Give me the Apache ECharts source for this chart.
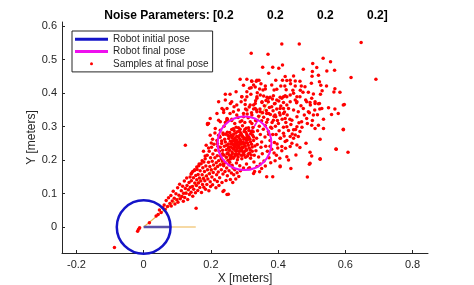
<!DOCTYPE html>
<html>
<head>
<meta charset="utf-8">
<script src="https://cdn.jsdelivr.net/npm/echarts@6/dist/echarts.min.js"></script>
<style>
  html, body { margin: 0; padding: 0; background: #fff; }
  #chart { width: 474px; height: 285px; }
</style>
</head>
<body>
<div id="chart"></div>
<script>
// axis ranges and ticks (meters)
const xRange = [-0.243, 0.846];
const yRange = [-0.0776, 0.612];
const xTicks = [-0.2, 0, 0.2, 0.4, 0.6, 0.8];
const yTicks = [0, 0.1, 0.2, 0.3, 0.4, 0.5, 0.6];

// robot poses [x, y, radius]
const initialPose = [[0, 0, 0.08]];
const finalPose = [[0.3, 0.25, 0.08]];

// heading / path segments
const initHeading = [[0, 0], [0.08, 0]];
const initRay = [[0, 0], [0.155, 0]];
const pathRay = [[0, 0], [0.3, 0.25]];
const finalRay = [[0.3, 0.25], [0.372, 0.375]];
const finalHeading = [[0.3, 0.25], [0.34, 0.319]];

const samples = [
  // outliers
  [0.467,0.613],[0.647,0.551],[0.411,0.546],[0.463,0.546],[0.691,0.441],[0.617,0.446],
  [0.608,0.223],[0.573,0.232],[0.525,0.204],[0.495,0.190],[0.487,0.149],[0.594,0.290],
  [0.124,0.244],[0.156,0.056],[-0.087,-0.061],[-0.018,-0.013],[-0.015,-0.007],[-0.012,-0.002],
  [0.017,0.013],[0.037,0.033],
  // upper right
  [0.320,0.519],[0.370,0.516],[0.534,0.504],[0.556,0.493],[0.503,0.488],[0.413,0.484],
  [0.354,0.477],[0.384,0.477],[0.402,0.474],[0.475,0.471],[0.515,0.476],[0.545,0.466],
  [0.568,0.468],[0.502,0.464],[0.372,0.459],[0.421,0.449],[0.446,0.451],[0.520,0.453],
  [0.501,0.450],[0.343,0.438],[0.349,0.428],[0.321,0.436],[0.335,0.435],[0.327,0.424],
  [0.362,0.421],[0.393,0.438],[0.413,0.438],[0.426,0.437],[0.436,0.438],[0.451,0.436],
  [0.465,0.435],[0.381,0.424],[0.408,0.421],[0.420,0.421],[0.451,0.421],[0.469,0.421],
  [0.480,0.419],[0.499,0.429],[0.523,0.434],[0.527,0.423],[0.544,0.421],[0.569,0.413],
  [0.584,0.402],[0.566,0.403],[0.320,0.416],[0.345,0.412],[0.355,0.409],[0.396,0.411],
  [0.424,0.410],[0.444,0.408],[0.466,0.408],[0.490,0.402],[0.505,0.397],[0.526,0.396],
  [0.531,0.407],[0.597,0.366],[0.446,0.399],[0.456,0.389],[0.421,0.392],[0.436,0.394],
  [0.347,0.394],[0.357,0.391],[0.367,0.387],[0.376,0.387],[0.386,0.392],[0.406,0.387],
  [0.332,0.369],[0.352,0.372],[0.371,0.374],[0.391,0.369],[0.416,0.372],[0.456,0.374],
  [0.482,0.379],[0.495,0.372],[0.510,0.374],[0.520,0.368],
  // right side
  [0.411,0.384],[0.426,0.389],[0.436,0.374],[0.451,0.379],[0.465,0.389],[0.485,0.374],
  [0.500,0.384],[0.510,0.369],[0.523,0.369],[0.530,0.354],[0.550,0.356],[0.569,0.352],
  [0.594,0.364],[0.579,0.339],[0.559,0.336],[0.535,0.322],[0.505,0.334],[0.490,0.344],
  [0.475,0.354],[0.460,0.344],[0.446,0.349],[0.431,0.354],[0.416,0.354],[0.406,0.334],
  [0.421,0.324],[0.441,0.319],[0.456,0.329],[0.470,0.314],[0.485,0.324],[0.500,0.304],
  [0.510,0.294],[0.520,0.304],[0.535,0.294],[0.594,0.292],[0.525,0.262],[0.426,0.299],
  [0.446,0.290],[0.456,0.299],[0.465,0.285],[0.416,0.280],[0.436,0.270],[0.451,0.275],
  [0.460,0.270],[0.406,0.265],[0.421,0.255],[0.441,0.250],[0.411,0.240],[0.436,0.240],
  [0.456,0.245],[0.465,0.237],[0.483,0.250],[0.495,0.223],[0.500,0.212],[0.525,0.202],
  [0.572,0.233],[0.453,0.215],[0.426,0.210],[0.431,0.200],[0.493,0.187],[0.438,0.175],
  [0.406,0.182],[0.351,0.175],[0.366,0.150],[0.384,0.150],[0.406,0.180],[0.327,0.160],
  [0.312,0.175],
  // above the core
  [0.287,0.441],[0.307,0.441],[0.322,0.435],[0.337,0.438],[0.297,0.423],[0.315,0.414],
  [0.332,0.418],[0.275,0.404],[0.307,0.404],[0.319,0.396],[0.257,0.396],[0.243,0.396],
  [0.223,0.374],[0.243,0.379],[0.262,0.374],[0.292,0.389],[0.307,0.389],[0.290,0.374],
  [0.302,0.366],[0.337,0.384],[0.327,0.364],[0.269,0.359],[0.248,0.354],[0.233,0.354],
  [0.238,0.342],[0.218,0.339],[0.257,0.339],[0.282,0.349],[0.307,0.349],[0.277,0.334],
  [0.297,0.329],[0.322,0.334],[0.337,0.344],[0.190,0.309],[0.228,0.314],[0.248,0.319],
  [0.262,0.322],[0.287,0.314],[0.317,0.314],[0.213,0.294],[0.198,0.274],[0.223,0.274],
  [0.292,0.389],[0.302,0.379],[0.337,0.389],[0.352,0.374],[0.371,0.384],[0.396,0.379],
  [0.416,0.389],[0.258,0.369],[0.277,0.364],[0.317,0.364],[0.332,0.354],[0.381,0.359],
  [0.406,0.354],[0.426,0.364],[0.238,0.349],[0.267,0.344],[0.297,0.339],[0.347,0.344],
  [0.366,0.339],[0.391,0.334],[0.416,0.339],[0.198,0.324],[0.223,0.319],[0.248,0.324],
  [0.193,0.309],
  // dense core
  [0.241,0.262],[0.246,0.231],[0.249,0.283],[0.252,0.248],[0.255,0.215],[0.257,0.271],
  [0.259,0.239],[0.262,0.291],[0.263,0.224],[0.265,0.257],[0.267,0.205],[0.268,0.278],
  [0.270,0.242],[0.272,0.265],[0.273,0.218],[0.275,0.298],[0.276,0.251],[0.278,0.233],
  [0.279,0.284],[0.281,0.209],[0.282,0.268],[0.284,0.245],[0.285,0.226],[0.287,0.292],
  [0.288,0.259],[0.290,0.214],[0.291,0.276],[0.293,0.238],[0.294,0.302],[0.296,0.253],
  [0.297,0.222],[0.299,0.285],[0.300,0.266],[0.302,0.241],[0.303,0.208],[0.305,0.295],
  [0.306,0.229],[0.308,0.272],[0.309,0.251],[0.311,0.218],[0.313,0.288],[0.314,0.236],
  [0.316,0.262],[0.318,0.205],[0.319,0.279],[0.321,0.247],[0.323,0.226],[0.325,0.297],
  [0.327,0.258],[0.329,0.214],[0.244,0.277],[0.251,0.199],[0.258,0.256],[0.264,0.236],
  [0.269,0.288],[0.274,0.228],[0.280,0.253],[0.286,0.274],[0.292,0.229],[0.298,0.247],
  [0.304,0.283],[0.310,0.262],[0.317,0.231],[0.324,0.274],[0.331,0.242],[0.253,0.264],
  [0.261,0.211],[0.266,0.246],[0.271,0.255],[0.277,0.271],[0.283,0.237],[0.289,0.248],
  [0.295,0.269],[0.301,0.226],[0.307,0.259],[0.312,0.296],[0.320,0.215],[0.326,0.284],
  [0.247,0.244],[0.256,0.229],[0.260,0.275],[0.285,0.286],[0.278,0.216],[0.294,0.214],
  [0.336,0.265],[0.334,0.228],[0.339,0.287],[0.338,0.246],[0.342,0.209],
  [0.243,0.254],[0.248,0.219],[0.251,0.273],[0.254,0.239],[0.256,0.282],[0.258,0.203],
  [0.261,0.248],[0.263,0.266],[0.264,0.219],[0.267,0.293],[0.268,0.232],[0.269,0.261],
  [0.271,0.211],[0.273,0.247],[0.274,0.281],[0.276,0.226],[0.277,0.259],[0.279,0.201],
  [0.281,0.241],[0.282,0.296],[0.283,0.219],[0.286,0.263],[0.287,0.234],[0.289,0.281],
  [0.291,0.252],[0.292,0.204],[0.294,0.271],[0.296,0.237],[0.298,0.262],[0.299,0.216],
  [0.301,0.291],[0.303,0.251],[0.305,0.233],[0.307,0.276],[0.309,0.212],[0.311,0.244],
  [0.313,0.268],[0.315,0.221],[0.318,0.254],[0.321,0.286],[0.323,0.239],[0.327,0.269],
  [0.252,0.236],[0.266,0.272],[0.279,0.245],[0.291,0.227],[0.304,0.264],[0.262,0.255],
  [0.273,0.238],[0.285,0.252],
  // ring around the core
  [0.228,0.238],[0.232,0.257],[0.235,0.219],[0.236,0.281],[0.239,0.301],[0.226,0.271],
  [0.231,0.204],[0.237,0.188],[0.243,0.312],[0.249,0.322],[0.254,0.186],[0.262,0.318],
  [0.266,0.176],[0.271,0.309],[0.276,0.191],[0.281,0.327],[0.286,0.183],[0.292,0.317],
  [0.297,0.176],[0.301,0.312],[0.306,0.188],[0.311,0.326],[0.315,0.177],[0.322,0.309],
  [0.328,0.194],[0.333,0.318],[0.337,0.181],[0.344,0.301],[0.347,0.276],[0.349,0.238],
  [0.351,0.254],[0.353,0.219],[0.356,0.292],[0.358,0.197],[0.361,0.269],[0.363,0.241],
  [0.366,0.313],[0.368,0.226],[0.371,0.285],[0.373,0.207],[0.376,0.258],[0.378,0.298],
  [0.381,0.232],[0.384,0.276],[0.386,0.319],[0.389,0.252],[0.392,0.301],[0.395,0.214],
  [0.357,0.328],[0.347,0.188],[0.362,0.182],[0.378,0.192],[0.391,0.198],[0.399,0.236],
  [0.403,0.287],[0.398,0.318],[0.388,0.331],[0.372,0.339],[0.345,0.165],[0.330,0.166],
  // right of the core
  [0.342,0.331],[0.346,0.352],[0.351,0.317],[0.354,0.341],[0.359,0.362],[0.362,0.302],
  [0.365,0.348],[0.369,0.321],[0.374,0.357],[0.377,0.336],[0.382,0.312],[0.385,0.347],
  [0.389,0.368],[0.393,0.329],[0.396,0.352],[0.401,0.309],[0.404,0.341],[0.408,0.361],
  [0.412,0.322],[0.416,0.298],[0.419,0.343],[0.423,0.312],[0.427,0.334],[0.431,0.288],
  [0.435,0.322],[0.438,0.306],[0.442,0.278],[0.364,0.378],[0.383,0.382],[0.402,0.376],
  [0.336,0.349],[0.333,0.377],[0.327,0.352],[0.321,0.341],[0.314,0.358],[0.308,0.337],
  [0.303,0.352],[0.338,0.401],[0.362,0.412],[0.388,0.409],[0.372,0.277],[0.381,0.295],
  [0.394,0.276],[0.407,0.265],[0.418,0.272],[0.426,0.258],[0.397,0.248],[0.411,0.228],
  [0.388,0.221],[0.376,0.241],[0.405,0.205],[0.422,0.235],[0.446,0.265],[0.452,0.291],
  [0.462,0.311],[0.471,0.298],[0.478,0.334],[0.487,0.309],[0.493,0.341],[0.502,0.318],
  [0.509,0.349],[0.517,0.335],[0.524,0.352],[0.496,0.364],[0.468,0.362],[0.455,0.371],
  [0.474,0.402],[0.437,0.428],
  // tail toward the start
  [0.043,0.037],[0.047,0.051],[0.052,0.043],[0.057,0.058],
  [0.061,0.066],[0.064,0.052],[0.067,0.079],[0.071,0.061],[0.074,0.087],[0.078,0.070],
  [0.081,0.094],[0.082,0.063],[0.085,0.078],[0.088,0.107],[0.091,0.086],[0.093,0.069],
  [0.096,0.099],[0.099,0.081],
  [0.101,0.117],[0.102,0.074],[0.105,0.095],[0.107,0.128],[0.109,0.084],[0.112,0.108],
  [0.114,0.091],[0.116,0.122],[0.118,0.077],[0.119,0.101],
  [0.121,0.137],[0.122,0.088],[0.124,0.115],[0.126,0.101],[0.128,0.146],[0.129,0.124],
  [0.131,0.082],[0.133,0.111],[0.135,0.133],[0.136,0.097],[0.138,0.149],[0.139,0.119],
  [0.141,0.104],[0.142,0.138],[0.143,0.161],[0.145,0.121],[0.146,0.092],[0.148,0.147],
  [0.149,0.113],[0.151,0.169],[0.152,0.131],[0.154,0.102],[0.155,0.154],[0.157,0.124],
  [0.158,0.141],[0.159,0.172],
  [0.161,0.109],[0.162,0.157],[0.163,0.131],[0.164,0.183],[0.166,0.146],[0.167,0.118],
  [0.168,0.168],[0.170,0.137],[0.171,0.189],[0.172,0.103],[0.174,0.156],[0.175,0.127],
  [0.176,0.177],[0.178,0.145],[0.179,0.194],[0.179,0.119],
  [0.181,0.166],[0.182,0.138],[0.183,0.204],[0.184,0.113],[0.185,0.182],[0.187,0.152],
  [0.188,0.127],[0.189,0.214],[0.190,0.171],[0.191,0.143],[0.193,0.193],[0.194,0.108],
  [0.195,0.226],[0.196,0.159],[0.197,0.181],[0.198,0.135],[0.199,0.207],[0.199,0.121],
  [0.201,0.171],[0.202,0.238],[0.203,0.149],[0.204,0.196],[0.205,0.126],[0.206,0.218],
  [0.207,0.163],[0.208,0.185],[0.209,0.247],[0.211,0.141],[0.212,0.207],[0.213,0.174],
  [0.214,0.229],[0.215,0.117],[0.216,0.192],[0.217,0.156],[0.218,0.258],[0.219,0.213],
  [0.219,0.136],[0.220,0.181],
  [0.221,0.241],[0.222,0.164],[0.223,0.198],[0.224,0.124],[0.225,0.226],[0.226,0.147],
  [0.227,0.268],[0.228,0.186],[0.229,0.211],[0.231,0.171],[0.232,0.249],[0.233,0.133],
  [0.234,0.197],[0.235,0.229],[0.236,0.158],[0.237,0.276],[0.238,0.183],[0.239,0.214],
  [0.239,0.109],[0.240,0.241],
  [0.242,0.166],[0.243,0.192],[0.245,0.139],[0.246,0.208],[0.247,0.176],[0.249,0.153],
  [0.251,0.222],[0.252,0.098],[0.254,0.168],[0.256,0.193],[0.258,0.142],[0.259,0.207],
  [0.261,0.161],[0.263,0.184],[0.265,0.133],
  [0.268,0.156],[0.271,0.171],[0.274,0.143],[0.278,0.162],[0.283,0.151],[0.288,0.168],
  [0.236,0.106],[0.248,0.097],
  // left of the core
  [0.190,0.306],[0.205,0.262],[0.212,0.281],[0.219,0.249],[0.186,0.244],[0.193,0.236],
  [0.201,0.251],[0.178,0.226],[0.183,0.212],[0.228,0.289],[0.174,0.198],[0.165,0.188],
  [0.158,0.179],[0.152,0.171],[0.146,0.166],[0.141,0.158]
];

const chart = echarts.init(document.getElementById('chart'));

const fontFamily = '"Liberation Sans", Arial, Helvetica, sans-serif';
const axisColor = '#262626';
const blue = '#1414c8';
const magenta = '#ee10ee';
const orange = '#edb44a';

function circleItem(params, api) {
  const c = api.coord([api.value(0), api.value(1)]);
  const s = api.size([api.value(2), api.value(2)]);
  return {
    type: 'ellipse',
    shape: { cx: c[0], cy: c[1], rx: s[0], ry: s[1] },
    style: { fill: 'none', stroke: api.visual('color'), lineWidth: params.seriesIndex === 0 ? 2.5 : 2 }
  };
}

function segment(data, color, width, z) {
  return {
    type: 'line',
    data: data,
    symbol: 'none',
    silent: true,
    z: z,
    lineStyle: { color: color, width: width },
    itemStyle: { color: color }
  };
}

const option = {
  animation: false,
  textStyle: { fontFamily: fontFamily },
  title: {
    text: 'Noise Parameters: [0.2          0.2          0.2          0.2]',
    left: 241,
    textAlign: 'center',
    top: 5,
    textStyle: { fontSize: 12, fontWeight: 'bold', color: '#000', fontFamily: fontFamily }
  },
  legend: {
    orient: 'vertical',
    left: 72,
    top: 31,
    padding: [2, 4, 2, 3],
    itemGap: 0,
    itemWidth: 33,
    itemHeight: 3,
    selectedMode: false,
    backgroundColor: '#fff',
    borderColor: axisColor,
    borderWidth: 1,
    borderRadius: 0,
    textStyle: { fontSize: 10, color: axisColor, lineHeight: 12.3, fontFamily: fontFamily },
    data: [
      { name: 'Robot initial pose', icon: 'rect' },
      { name: 'Robot final pose', icon: 'rect' },
      { name: 'Samples at final pose', icon: 'circle' }
    ]
  },
  grid: { left: 62, right: 46, top: 22, bottom: 32, outerBoundsMode: 'none' },
  xAxis: {
    type: 'value',
    min: xRange[0],
    max: xRange[1],
    name: 'X [meters]',
    nameLocation: 'middle',
    nameGap: 20,
    nameMoveOverlap: false,
    nameTextStyle: { fontSize: 12, color: axisColor },
    axisLine: { onZero: false, lineStyle: { color: axisColor, width: 1 } },
    axisTick: { inside: true, length: 3, customValues: xTicks, lineStyle: { color: axisColor } },
    axisLabel: { customValues: xTicks, fontSize: 11, color: axisColor, margin: 6 },
    splitLine: { show: false }
  },
  yAxis: {
    type: 'value',
    min: yRange[0],
    max: yRange[1],
    name: 'Y [meters]',
    nameLocation: 'middle',
    nameGap: 24,
    nameMoveOverlap: false,
    nameTextStyle: { fontSize: 12, color: axisColor },
    axisLine: { show: true, onZero: false, lineStyle: { color: axisColor, width: 1 } },
    axisTick: { show: true, inside: true, length: 3, customValues: yTicks, lineStyle: { color: axisColor } },
    axisLabel: { customValues: yTicks, fontSize: 11, color: axisColor, margin: 5 },
    splitLine: { show: false }
  },
  series: [
    {
      name: 'Robot initial pose',
      type: 'custom',
      renderItem: circleItem,
      data: initialPose,
      encode: { x: 0, y: 1 },
      itemStyle: { color: blue },
      clip: false,
      z: 5
    },
    {
      name: 'Robot final pose',
      type: 'custom',
      renderItem: circleItem,
      data: finalPose,
      encode: { x: 0, y: 1 },
      itemStyle: { color: magenta },
      clip: false,
      z: 5
    },
    {
      name: 'Samples at final pose',
      type: 'scatter',
      data: samples,
      symbol: 'circle',
      symbolSize: 3.5,
      itemStyle: { color: '#ff0000', opacity: 1 },
      z: 3
    },
    segment(initRay, orange, 1.2, 1),
    segment(pathRay, orange, 1.2, 1),
    segment(finalRay, orange, 1.2, 1),
    segment(finalHeading, magenta, 1.5, 2),
    segment(initHeading, '#5a50a8', 2.5, 4)
  ]
};

chart.setOption(option);
</script>
</body>
</html>
